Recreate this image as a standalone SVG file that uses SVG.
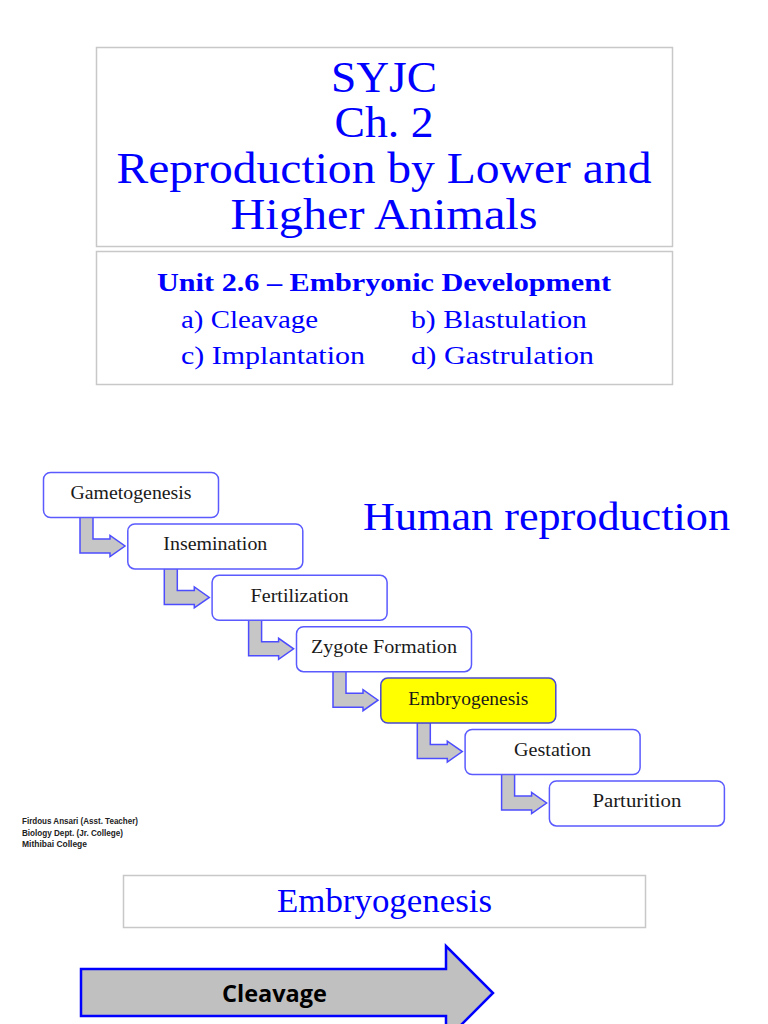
<svg xmlns="http://www.w3.org/2000/svg" xmlns:xlink="http://www.w3.org/1999/xlink" width="768" height="1024" viewBox="0 0 768 1024">
<style>
.frame{fill:#fff;stroke:#c8c8c8;stroke-width:1.5}
.ttl{font-family:"Liberation Serif",serif;fill:#0000ff;text-anchor:middle}
.node rect{fill:#fff;stroke:#5a5aff;stroke-width:1.5}
.node text{font-family:"Liberation Serif",serif;font-size:19px;fill:#1a1a1a;text-anchor:middle}
.bent{fill:#c6c6c6;stroke:#4d4dff;stroke-width:1.5;stroke-linejoin:miter}
.foot{font-family:"Liberation Sans",sans-serif;font-weight:bold;font-size:8.8px;fill:#222}
</style>
<defs>
<path id="bent" d="M80,517 H93 V539 H110 V535.5 L125,546 L110,556.5 V553 H80 Z"/>
</defs>
<rect width="768" height="1024" fill="#fff"/>

<g id="title-box">
<rect class="frame" x="96.5" y="47.5" width="576" height="199"/>
<text class="ttl" x="384" y="92" font-size="44" textLength="106" lengthAdjust="spacingAndGlyphs">SYJC</text>
<text class="ttl" x="384" y="137" font-size="44" textLength="99" lengthAdjust="spacingAndGlyphs">Ch. 2</text>
<text class="ttl" x="384" y="183" font-size="44" textLength="535" lengthAdjust="spacingAndGlyphs">Reproduction by Lower and</text>
<text class="ttl" x="384" y="229" font-size="44" textLength="307" lengthAdjust="spacingAndGlyphs">Higher Animals</text>
</g>

<g id="unit-box">
<rect class="frame" x="96.5" y="251.5" width="576" height="133"/>
<text class="ttl" x="384" y="291" font-size="25" font-weight="bold" textLength="454" lengthAdjust="spacingAndGlyphs">Unit 2.6 – Embryonic Development</text>
<text class="ttl" x="181" y="328" font-size="26" style="text-anchor:start" textLength="137" lengthAdjust="spacingAndGlyphs">a) Cleavage</text>
<text class="ttl" x="411" y="328" font-size="26" style="text-anchor:start" textLength="176" lengthAdjust="spacingAndGlyphs">b) Blastulation</text>
<text class="ttl" x="181" y="364" font-size="26" style="text-anchor:start" textLength="184" lengthAdjust="spacingAndGlyphs">c) Implantation</text>
<text class="ttl" x="411" y="364" font-size="26" style="text-anchor:start" textLength="183" lengthAdjust="spacingAndGlyphs">d) Gastrulation</text>
</g>

<g id="heading">
<text class="ttl" x="363" y="530" font-size="40" style="text-anchor:start" textLength="367" lengthAdjust="spacingAndGlyphs">Human reproduction</text>
</g>

<g id="connectors">
<use xlink:href="#bent" href="#bent" class="bent"/>
<use xlink:href="#bent" href="#bent" class="bent" x="84.3" y="51.4"/>
<use xlink:href="#bent" href="#bent" class="bent" x="168.6" y="102.8"/>
<use xlink:href="#bent" href="#bent" class="bent" x="253" y="154.2"/>
<use xlink:href="#bent" href="#bent" class="bent" x="337.3" y="205.6"/>
<use xlink:href="#bent" href="#bent" class="bent" x="421.6" y="257"/>
</g>

<g id="node-gametogenesis" class="node">
<rect x="43.5" y="472.5" width="175" height="45" rx="7"/>
<text x="131" y="499" textLength="121" lengthAdjust="spacingAndGlyphs">Gametogenesis</text>
</g>
<g id="node-insemination" class="node">
<rect x="127.8" y="523.9" width="175" height="45" rx="7"/>
<text x="215.3" y="550.4" textLength="104" lengthAdjust="spacingAndGlyphs">Insemination</text>
</g>
<g id="node-fertilization" class="node">
<rect x="212.1" y="575.3" width="175" height="45" rx="7"/>
<text x="299.6" y="601.8" textLength="98" lengthAdjust="spacingAndGlyphs">Fertilization</text>
</g>
<g id="node-zygote" class="node">
<rect x="296.5" y="626.7" width="175" height="45" rx="7"/>
<text x="384" y="653.2" textLength="146" lengthAdjust="spacingAndGlyphs">Zygote Formation</text>
</g>
<g id="node-embryogenesis" class="node">
<rect x="380.8" y="678.1" width="175" height="45" rx="7" style="fill:#ffff00;stroke:#4a4ad0"/>
<text x="468.3" y="704.6" textLength="120" lengthAdjust="spacingAndGlyphs">Embryogenesis</text>
</g>
<g id="node-gestation" class="node">
<rect x="465.1" y="729.5" width="175" height="45" rx="7"/>
<text x="552.6" y="756" textLength="77" lengthAdjust="spacingAndGlyphs">Gestation</text>
</g>
<g id="node-parturition" class="node">
<rect x="549.4" y="780.9" width="175" height="45" rx="7"/>
<text x="636.9" y="807.4" textLength="89" lengthAdjust="spacingAndGlyphs">Parturition</text>
</g>

<g id="footer">
<text class="foot" x="22" y="824" textLength="116" lengthAdjust="spacingAndGlyphs">Firdous Ansari (Asst. Teacher)</text>
<text class="foot" x="22" y="835.5" textLength="101" lengthAdjust="spacingAndGlyphs">Biology Dept. (Jr. College)</text>
<text class="foot" x="22" y="847" textLength="65" lengthAdjust="spacingAndGlyphs">Mithibai College</text>
</g>

<g id="embryogenesis-box">
<rect class="frame" x="123.5" y="875.5" width="522" height="52"/>
<text class="ttl" x="384.5" y="912" font-size="33" textLength="215" lengthAdjust="spacingAndGlyphs">Embryogenesis</text>
</g>

<g id="cleavage-arrow">
<path d="M81,969 H446 V946 L493,993 L446,1040 V1016 H81 Z" fill="#c0c0c0" stroke="#0000ff" stroke-width="2.5"/>
<text x="274.5" y="1002" font-family="'Open Sans','Liberation Sans',sans-serif" font-weight="bold" font-size="24" fill="#000" text-anchor="middle" textLength="105" lengthAdjust="spacingAndGlyphs">Cleavage</text>
</g>
</svg>
